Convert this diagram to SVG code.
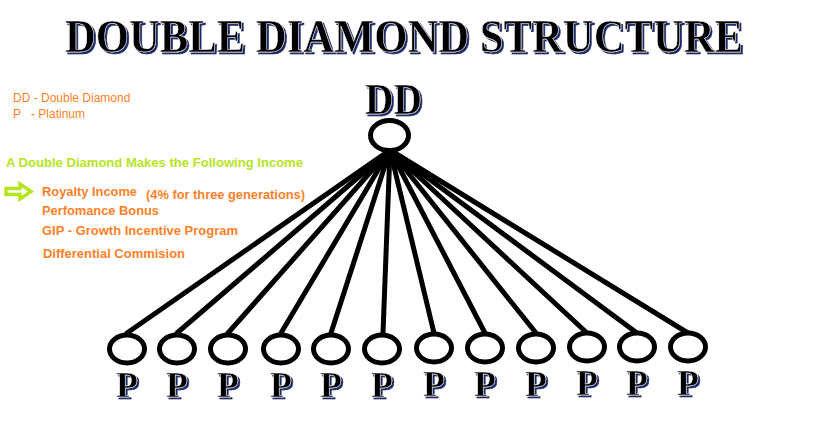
<svg xmlns="http://www.w3.org/2000/svg" width="822" height="430" viewBox="0 0 822 430">
<defs>
  <filter id="shadow" x="-5%" y="-10%" width="115%" height="130%">
    <feOffset in="SourceAlpha" dx="2" dy="2" result="off"/>
    <feFlood flood-color="#1a2a6a"/>
    <feComposite operator="in" in2="off" result="sh"/>
    <feMerge><feMergeNode in="sh"/><feMergeNode in="SourceGraphic"/></feMerge>
  </filter>
</defs>
<style>
.bg{fill:#fff}
.node{fill:#fff;stroke:#000;stroke-width:5}
.conn line{stroke:#000;stroke-width:5;stroke-linecap:round}
.deco{font-family:"Liberation Serif","DejaVu Serif",serif;font-weight:bold;fill:#000;stroke:#fff;stroke-width:0.5;filter:url(#shadow)}
.leg{font-family:"Liberation Sans",Arial,sans-serif;font-size:12px;fill:#ff7f27}
.inc{font-family:"Liberation Sans",Arial,sans-serif;font-size:13.5px;font-weight:bold;fill:#ff7f27}
.head{font-family:"Liberation Sans",Arial,sans-serif;font-size:13.5px;font-weight:bold;fill:#b5e61d}
.p{font-size:36px;text-anchor:middle}
</style>
<rect class="bg" width="822" height="430"/>

<g id="title">
  <text class="deco" x="65" y="52" font-size="46" textLength="678" lengthAdjust="spacingAndGlyphs">DOUBLE DIAMOND STRUCTURE</text>
</g>

<g id="legend">
  <text class="leg" x="13" y="102">DD - Double Diamond</text>
  <text class="leg" x="13" y="118">P</text>
  <text class="leg" x="31" y="118">- Platinum</text>
</g>

<g id="income">
  <text class="head" x="6" y="167" textLength="297" lengthAdjust="spacingAndGlyphs">A Double Diamond Makes the Following Income</text>
  <path d="M6,188.5 H20 V184 L31,191.5 L20,199 V194.5 H6 Z" fill="#fff" stroke="#b5e61d" stroke-width="3.5" stroke-linejoin="miter"/>
  <text class="inc" x="42" y="196" textLength="95" lengthAdjust="spacingAndGlyphs">Royalty Income</text>
  <text class="inc" x="146" y="199" textLength="159" lengthAdjust="spacingAndGlyphs">(4% for three generations)</text>
  <text class="inc" x="42" y="215" textLength="117" lengthAdjust="spacingAndGlyphs">Perfomance Bonus</text>
  <text class="inc" x="42" y="235" textLength="196" lengthAdjust="spacingAndGlyphs">GIP - Growth Incentive Program</text>
  <text class="inc" x="43" y="258" textLength="142" lengthAdjust="spacingAndGlyphs">Differential Commision</text>
</g>

<g id="connectors" class="conn">
  <line x1="390" y1="150" x2="127" y2="333"/>
  <line x1="390" y1="150" x2="177" y2="333"/>
  <line x1="390" y1="150" x2="228" y2="333"/>
  <line x1="390" y1="150" x2="281" y2="333"/>
  <line x1="390" y1="150" x2="331" y2="333"/>
  <line x1="390" y1="150" x2="383" y2="333"/>
  <line x1="390" y1="150" x2="434" y2="333"/>
  <line x1="390" y1="150" x2="485" y2="333"/>
  <line x1="390" y1="150" x2="536" y2="333"/>
  <line x1="390" y1="150" x2="587" y2="333"/>
  <line x1="390" y1="150" x2="637" y2="333"/>
  <line x1="390" y1="150" x2="688" y2="333"/>
</g>

<g id="dd">
  <ellipse class="node" cx="389.5" cy="135.5" rx="19" ry="15"/>
  <text class="deco" x="365" y="114" font-size="44" textLength="57" lengthAdjust="spacingAndGlyphs">DD</text>
</g>

<g id="p1"><ellipse class="node" cx="127" cy="349" rx="17.5" ry="14"/><text class="deco p" x="127" y="397">P</text></g>
<g id="p2"><ellipse class="node" cx="177" cy="349" rx="17.5" ry="14"/><text class="deco p" x="177" y="397">P</text></g>
<g id="p3"><ellipse class="node" cx="228" cy="349" rx="17.5" ry="14"/><text class="deco p" x="228" y="397">P</text></g>
<g id="p4"><ellipse class="node" cx="281" cy="349" rx="17.5" ry="14"/><text class="deco p" x="281" y="397">P</text></g>
<g id="p5"><ellipse class="node" cx="331" cy="349" rx="17.5" ry="14"/><text class="deco p" x="331" y="397">P</text></g>
<g id="p6"><ellipse class="node" cx="382" cy="349" rx="17.5" ry="14"/><text class="deco p" x="382" y="397">P</text></g>
<g id="p7"><ellipse class="node" cx="434" cy="348" rx="17.5" ry="14"/><text class="deco p" x="434" y="396">P</text></g>
<g id="p8"><ellipse class="node" cx="485" cy="348" rx="17.5" ry="14"/><text class="deco p" x="485" y="396">P</text></g>
<g id="p9"><ellipse class="node" cx="536" cy="348" rx="17.5" ry="14"/><text class="deco p" x="536" y="396">P</text></g>
<g id="p10"><ellipse class="node" cx="587" cy="347" rx="17.5" ry="14"/><text class="deco p" x="587" y="395">P</text></g>
<g id="p11"><ellipse class="node" cx="637" cy="347" rx="17.5" ry="14"/><text class="deco p" x="637" y="395">P</text></g>
<g id="p12"><ellipse class="node" cx="688" cy="347" rx="17.5" ry="14"/><text class="deco p" x="688" y="395">P</text></g>
</svg>
